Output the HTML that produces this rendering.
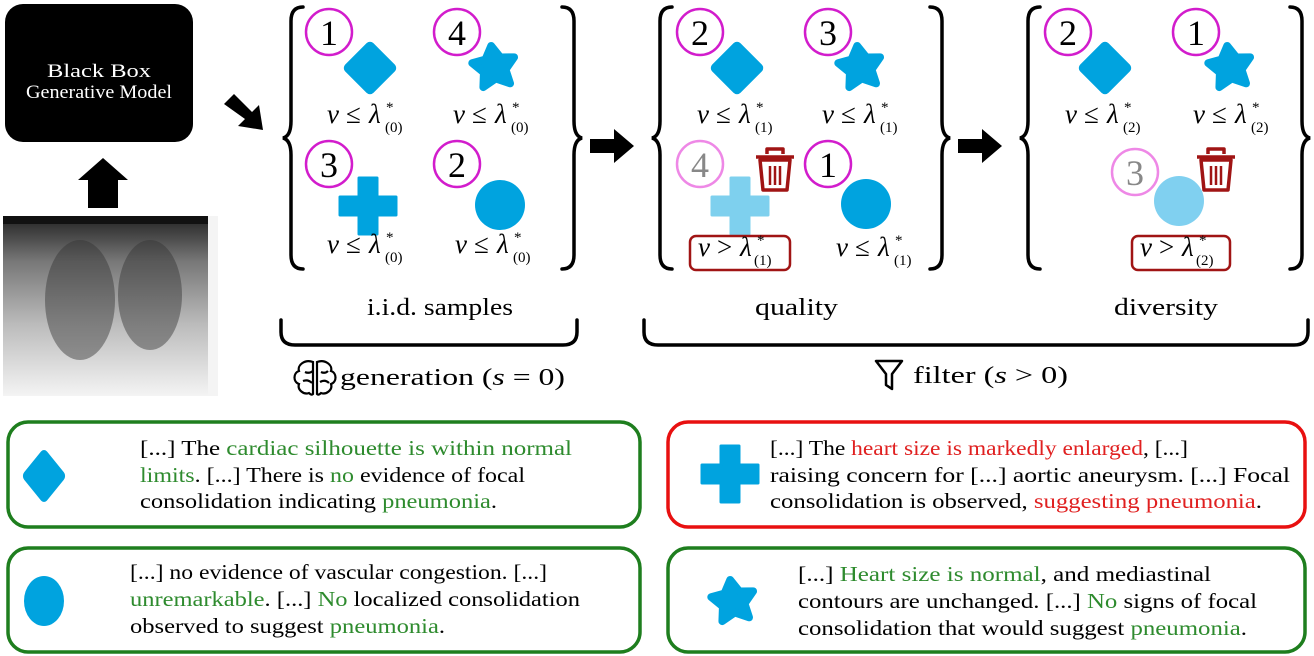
<!DOCTYPE html>
<html><head><meta charset="utf-8"><style>
html,body{margin:0;padding:0;background:#fff;}
svg{display:block;}
text{font-family:"Liberation Serif",serif;}
.g{fill:#2e8b2e}.r{fill:#e02020}
.m{font-size:27px}
.s{font-size:15px}
</style></head><body>
<svg width="1314" height="656" viewBox="0 0 1314 656" xmlns="http://www.w3.org/2000/svg">
<defs>
<linearGradient id="xr" x1="0" y1="0" x2="0" y2="1">
<stop offset="0" stop-color="#222"/><stop offset="0.25" stop-color="#777"/><stop offset="0.6" stop-color="#bbb"/><stop offset="1" stop-color="#f4f4f4"/></linearGradient>
<g id="star"><path d="M0,-24 L9,-9 L25,-7 L13,6 L16,23 L0,15 L-16,23 L-13,6 L-25,-7 L-9,-9 Z" fill="#00a3df" stroke="#00a3df" stroke-width="9" stroke-linejoin="round" transform="scale(0.85) rotate(-8)"/></g>
<g id="dia"><rect x="-20" y="-20" width="40" height="40" rx="5" fill="#00a3df" transform="rotate(45)"/></g>
<g id="plus"><path d="M-9,-28 h18 v19 h19 v18 h-19 v19 h-18 v-19 h-19 v-18 h19 z" fill="#00a3df" stroke="#00a3df" stroke-width="3" stroke-linejoin="round"/></g>
<g id="trash" fill="none" stroke="#a01414" stroke-width="3.5" stroke-linejoin="round"><path d="M-8,-18 v-5 h16 v5"/><path d="M-19,-15 h38"/><path d="M-15,-12 l3,30 h24 l3,-30 z"/><path d="M-5,-6 v19 M0,-6 v19 M5,-6 v19" stroke-width="2.5"/></g>
<g id="le"><text class="m" x="0" y="0" font-style="italic">ν</text><text class="m" x="19" y="0">≤</text><text class="m" x="42" y="0" font-style="italic">λ</text><text class="s" x="59" y="-11">*</text><text class="s" x="58" y="9">(0)</text></g>
<g id="l1"><text class="m" x="0" y="0" font-style="italic">ν</text><text class="m" x="19" y="0">≤</text><text class="m" x="42" y="0" font-style="italic">λ</text><text class="s" x="59" y="-11">*</text><text class="s" x="58" y="9">(1)</text></g>
<g id="l2"><text class="m" x="0" y="0" font-style="italic">ν</text><text class="m" x="19" y="0">≤</text><text class="m" x="42" y="0" font-style="italic">λ</text><text class="s" x="59" y="-11">*</text><text class="s" x="58" y="9">(2)</text></g>
<g id="g1"><text class="m" x="0" y="0" font-style="italic">ν</text><text class="m" x="19" y="0">&gt;</text><text class="m" x="42" y="0" font-style="italic">λ</text><text class="s" x="59" y="-11">*</text><text class="s" x="56" y="9">(1)</text></g>
<g id="g2"><text class="m" x="0" y="0" font-style="italic">ν</text><text class="m" x="19" y="0">&gt;</text><text class="m" x="42" y="0" font-style="italic">λ</text><text class="s" x="59" y="-11">*</text><text class="s" x="56" y="9">(2)</text></g>
</defs>

<rect x="5" y="4" width="188" height="138" rx="18" fill="#000"/>
<text x="99" y="77" fill="#fff" font-size="19" text-anchor="middle" textLength="104" lengthAdjust="spacingAndGlyphs">Black Box</text>
<text x="99" y="98" fill="#fff" font-size="19" text-anchor="middle" textLength="146" lengthAdjust="spacingAndGlyphs">Generative Model</text>
<path d="M88,208 v-28 h-10 l25,-22 l25,22 h-10 v28 z" fill="#000"/>
<rect x="3" y="216" width="215" height="180" fill="url(#xr)"/>
<ellipse cx="80" cy="300" rx="35" ry="60" fill="#333" opacity="0.45"/>
<ellipse cx="150" cy="295" rx="32" ry="55" fill="#333" opacity="0.45"/>
<rect x="3" y="216" width="215" height="8" fill="#111"/>
<rect x="208" y="216" width="10" height="180" fill="#f4f4f4"/>
<path d="M224,104 l10,-10 l18,18 l7,-7 l4,25 l-25,-4 l7,-7 z" fill="#000"/>
<path d="M590,139 h24 v-10 l20,17 l-20,17 v-10 h-24 z" fill="#000"/>
<path d="M958,139 h24 v-10 l20,17 l-20,17 v-10 h-24 z" fill="#000"/>

<g fill="none" stroke="#000" stroke-width="3.5" stroke-linecap="round">
<path d="M303,7 q-12,0 -12,14 v100 q0,15 -8,17 q8,2 8,17 v100 q0,14 12,14"/>
<path d="M562,7 q12,0 12,14 v100 q0,15 8,17 q-8,2 -8,17 v100 q0,14 -12,14"/>
<path d="M672,7 q-12,0 -12,14 v100 q0,15 -8,17 q8,2 8,17 v100 q0,14 12,14"/>
<path d="M930,7 q12,0 12,14 v100 q0,15 8,17 q-8,2 -8,17 v100 q0,14 -12,14"/>
<path d="M1040,7 q-12,0 -12,14 v100 q0,15 -8,17 q8,2 8,17 v100 q0,14 12,14"/>
<path d="M1290,7 q12,0 12,14 v100 q0,15 8,17 q-8,2 -8,17 v100 q0,14 -12,14"/>
<path d="M281,320 v12 q0,13 14,13 h268 q14,0 14,-13 v-12"/>
<path d="M644,320 v12 q0,13 14,13 h636 q14,0 14,-13 v-12"/>
</g>

<g fill="#fff" stroke="#d21ccc" stroke-width="2.5">
<circle cx="329" cy="32" r="23"/><circle cx="457" cy="32" r="23"/><circle cx="329" cy="164" r="23"/><circle cx="457" cy="164" r="23"/>
<circle cx="700" cy="32" r="23"/><circle cx="828" cy="32" r="23"/><circle cx="828" cy="164" r="23"/>
<circle cx="1068" cy="32" r="23"/><circle cx="1196" cy="32" r="23"/>
</g>
<g fill="#fff" stroke="#ee88e6" stroke-width="2.5"><circle cx="700" cy="164" r="23"/><circle cx="1135" cy="172" r="23"/></g>
<g font-size="36" text-anchor="middle">
<text x="329" y="45">1</text><text x="457" y="45">4</text><text x="329" y="177">3</text><text x="457" y="177">2</text>
<text x="700" y="45">2</text><text x="828" y="45">3</text><text x="828" y="177">1</text><text x="700" y="177" fill="#888">4</text>
<text x="1068" y="45">2</text><text x="1196" y="45">1</text><text x="1135" y="185" fill="#888">3</text>
</g>

<use href="#dia" x="370" y="68"/><use href="#star" x="494" y="66"/><use href="#plus" x="368" y="206"/><circle cx="500" cy="205" r="25" fill="#00a3df"/>
<use href="#dia" x="737" y="68"/><use href="#star" x="860" y="66"/><g opacity="0.5"><use href="#plus" x="740" y="206"/></g><circle cx="866" cy="204" r="25" fill="#00a3df"/>
<use href="#dia" x="1105" y="68"/><use href="#star" x="1230" y="66"/><circle cx="1179" cy="201" r="25" fill="#80d0f0"/>
<use href="#trash" x="775" y="172"/><use href="#trash" x="1216" y="172"/>

<rect x="690" y="236" width="100" height="34" rx="6" fill="none" stroke="#a01414" stroke-width="2.5"/>
<rect x="1132" y="236" width="98" height="34" rx="6" fill="none" stroke="#a01414" stroke-width="2.5"/>

<use href="#le" x="327" y="123"/><use href="#le" x="453" y="123"/><use href="#le" x="327" y="253"/><use href="#le" x="455" y="253"/>
<use href="#l1" x="697" y="123"/><use href="#l1" x="822" y="123"/><use href="#l1" x="836" y="256"/><use href="#g1" x="698" y="256"/>
<use href="#l2" x="1065" y="123"/><use href="#l2" x="1193" y="123"/><use href="#g2" x="1140" y="256"/>

<g font-size="24">
<text x="367" y="315" textLength="146" lengthAdjust="spacingAndGlyphs">i.i.d.  samples</text>
<text x="755" y="315" textLength="83" lengthAdjust="spacingAndGlyphs">quality</text>
<text x="1114" y="315" textLength="104" lengthAdjust="spacingAndGlyphs">diversity</text>
<text x="340" y="385" textLength="225" lengthAdjust="spacingAndGlyphs">generation (<tspan font-style="italic">s</tspan> = 0)</text>
<text x="913" y="383" textLength="155" lengthAdjust="spacingAndGlyphs">filter (<tspan font-style="italic">s</tspan> &gt; 0)</text>
</g>
<g fill="none" stroke="#000" stroke-width="2.2">
<path d="M313,362 c-8,-3 -16,3 -14,9 c-6,2 -6,11 0,13 c-2,6 5,11 10,9 c2,2 3,2 4,1 z"/>
<path d="M317,362 c8,-3 16,3 14,9 c6,2 6,11 0,13 c2,6 -5,11 -10,9 c-2,2 -3,2 -4,1 z"/>
<path d="M305,372 q4,2 8,-1 M303,381 q5,-2 9,2 M321,372 q4,2 7,-1 M320,382 q5,-3 9,1"/>
</g>
<path d="M876,361 h26 l-10,13 v15 l-6,-4 v-11 z" fill="none" stroke="#000" stroke-width="2.5" stroke-linejoin="round"/>

<g fill="none" stroke-width="3.5">
<rect x="8" y="422" width="632" height="105" rx="20" stroke="#1e7e1e"/>
<rect x="668" y="422" width="637" height="105" rx="20" stroke="#e81010"/>
<rect x="8" y="548" width="632" height="104" rx="20" stroke="#1e7e1e"/>
<rect x="668" y="548" width="637" height="104" rx="20" stroke="#1e7e1e"/>
</g>
<rect x="-19" y="-19" width="38" height="38" rx="5" fill="#00a3df" transform="translate(44,476) scale(0.85,1.05) rotate(45)"/>
<ellipse cx="44" cy="601" rx="20" ry="25" fill="#00a3df"/>
<use href="#plus" x="730" y="474"/>
<use href="#star" x="733" y="600"/>

<g font-size="21">
<text x="140" y="455" textLength="432" lengthAdjust="spacingAndGlyphs">[...] The <tspan class="g">cardiac silhouette is within normal</tspan></text>
<text x="140" y="482" textLength="385" lengthAdjust="spacingAndGlyphs"><tspan class="g">limits</tspan>. [...] There is <tspan class="g">no</tspan> evidence of focal</text>
<text x="140" y="508" textLength="357" lengthAdjust="spacingAndGlyphs">consolidation indicating <tspan class="g">pneumonia</tspan>.</text>
<text x="130" y="579" textLength="417" lengthAdjust="spacingAndGlyphs">[...] no evidence of vascular congestion. [...]</text>
<text x="130" y="606" textLength="450" lengthAdjust="spacingAndGlyphs"><tspan class="g">unremarkable</tspan>. [...] <tspan class="g">No</tspan> localized consolidation</text>
<text x="130" y="633" textLength="315" lengthAdjust="spacingAndGlyphs">observed to suggest <tspan class="g">pneumonia</tspan>.</text>
<text x="770" y="455" textLength="418" lengthAdjust="spacingAndGlyphs">[...] The <tspan class="r">heart size is markedly enlarged</tspan>, [...]</text>
<text x="770" y="482" textLength="520" lengthAdjust="spacingAndGlyphs">raising concern for [...] aortic aneurysm. [...] Focal</text>
<text x="770" y="508" textLength="492" lengthAdjust="spacingAndGlyphs">consolidation is observed, <tspan class="r">suggesting pneumonia</tspan>.</text>
<text x="798" y="581" textLength="413" lengthAdjust="spacingAndGlyphs">[...] <tspan class="g">Heart size is normal</tspan>, and mediastinal</text>
<text x="798" y="608" textLength="459" lengthAdjust="spacingAndGlyphs">contours are unchanged. [...] <tspan class="g">No</tspan> signs of focal</text>
<text x="798" y="635" textLength="449" lengthAdjust="spacingAndGlyphs">consolidation that would suggest <tspan class="g">pneumonia</tspan>.</text>
</g>
</svg>
</body></html>
